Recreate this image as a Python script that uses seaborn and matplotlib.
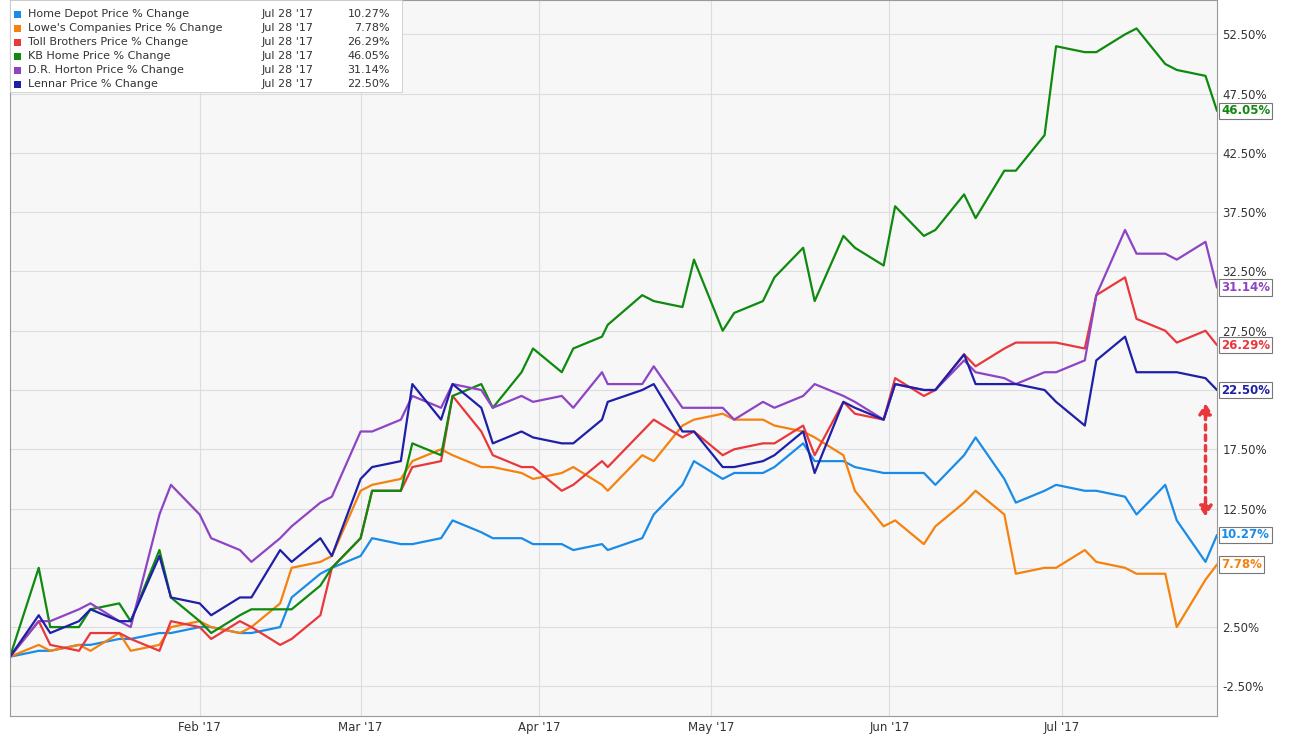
import matplotlib
matplotlib.use("Agg")
import matplotlib.pyplot as plt
import matplotlib.dates as mdates
import seaborn as sns
import pandas as pd
import numpy as np
from matplotlib.patches import Rectangle, FancyArrowPatch

dates = ["2016-12-30","2017-01-04","2017-01-06","2017-01-11","2017-01-13","2017-01-18","2017-01-20","2017-01-25","2017-01-27",
 "2017-02-01","2017-02-03","2017-02-08","2017-02-10","2017-02-15","2017-02-17","2017-02-22","2017-02-24",
 "2017-03-01","2017-03-03","2017-03-08","2017-03-10","2017-03-15","2017-03-17","2017-03-22","2017-03-24","2017-03-29","2017-03-31",
 "2017-04-05","2017-04-07","2017-04-12","2017-04-13","2017-04-19","2017-04-21","2017-04-26","2017-04-28",
 "2017-05-03","2017-05-05","2017-05-10","2017-05-12","2017-05-17","2017-05-19","2017-05-24","2017-05-26","2017-05-31",
 "2017-06-02","2017-06-07","2017-06-09","2017-06-14","2017-06-16","2017-06-21","2017-06-23","2017-06-28","2017-06-30",
 "2017-07-05","2017-07-07","2017-07-12","2017-07-14","2017-07-19","2017-07-21","2017-07-26","2017-07-28"]

home_depot = [0,0.5,0.5,1,1,1.5,1.5,2,2, 2.5,2.5,2,2,2.5,5,7,7.5, 8.5,10,9.5,9.5,10,11.5,10.5,10,10,9.5,
 9.5,9,9.5,9,10,12,14.5,16.5, 15,15.5,15.5,16,18,16.5,16.5,16,15.5, 15.5,15.5,14.5,17,18.5,15,13,14,14.5,
 14,14,13.5,12,14.5,11.5,8,10.27]
lowes = [0,1,0.5,1,0.5,2,0.5,1,2.5, 3,2.5,2,2.5,4.5,7.5,8,8.5, 14,14.5,15,16.5,17.5,17,16,16,15.5,15,
 15.5,16,14.5,14,17,16.5,19.5,20, 20.5,20,20,19.5,19,18.5,17,14,11, 11.5,9.5,11,13,14,12,7,7.5,7.5,
 9,8,7.5,7,7,2.5,6.5,7.78]
toll = [0,3,1,0.5,2,2,1.5,0.5,3, 2.5,1.5,3,2.5,1,1.5,3.5,7.5, 10,14,14,16,16.5,22,19,17,16,16,
 14,14.5,16.5,16,19,20,18.5,19, 17,17.5,18,18,19.5,17,21.5,20.5,20, 23.5,22,22.5,25.5,24.5,26,26.5,26.5,26.5,
 26,30.5,32,28.5,27.5,26.5,27.5,26.29]
kb_home = [0,7.5,2.5,2.5,4,4.5,3,9,5, 3,2,3.5,4,4,4,6,7.5, 10,14,14,18,17,22,23,21,24,26,
 24,26,27,28,30.5,30,29.5,33.5, 27.5,29,30,32,34.5,30,35.5,34.5,33, 38,35.5,36,39,37,41,41,44,51.5,
 51,51,52.5,53,50,49.5,49,46.05]
horton = [0,3,3,4,4.5,3,2.5,12,14.5, 12,10,9,8,10,11,13,13.5, 19,19,20,22,21,23,22.5,21,22,21.5,
 22,21,24,23,23,24.5,21,21, 21,20,21.5,21,22,23,22,21.5,20, 23,22.5,22.5,25,24,23.5,23,24,24,
 25,30.5,36,34,34,33.5,35,31.14]
lennar = [0,3.5,2,3,4,3,3,8.5,5, 4.5,3.5,5,5,9,8,10,8.5, 15,16,16.5,23,20,23,21,18,19,18.5,
 18,18,20,21.5,22.5,23,19,19, 16,16,16.5,17,19,15.5,21.5,21,20, 23,22.5,22.5,25.5,23,23,23,22.5,21.5,
 19.5,25,27,24,24,24,23.5,22.5]

names = ["Home Depot","Lowe's Companies","Toll Brothers","KB Home","D.R. Horton","Lennar"]
series = [home_depot, lowes, toll, kb_home, horton, lennar]
colors = ["#1a8ce8","#f5820f","#e8383b","#0e8a0e","#8e44c4","#1f1fa8"]
end_vals = ["10.27%","7.78%","26.29%","46.05%","31.14%","22.50%"]

frames = []
for n, s in zip(names, series):
    frames.append(pd.DataFrame({"date": pd.to_datetime(dates), "value": s, "name": n}))
df = pd.concat(frames)

sns.set_theme(style="whitegrid")
fig = plt.figure(figsize=(13.15, 7.42), dpi=100)
ax = fig.add_axes([10/1315, 1-716/742, 1207/1315, 716/742])
ax.set_facecolor("#f7f7f7")
sns.lineplot(data=df, x="date", y="value", hue="name", palette=dict(zip(names, colors)),
             linewidth=1.6, legend=False, ax=ax)
ax.set_xlim(pd.Timestamp("2016-12-30"), pd.Timestamp("2017-07-28"))
ax.set_ylim(-5.0, 55.4)
ticks = np.arange(-2.5, 55, 5)
ax.set_yticks(ticks)
ax.yaxis.tick_right()
# labels hidden where the end-value boxes sit (as in the reference)
ax.set_yticklabels(["" if t in (7.5, 22.5) else f"{t:.2f}%" for t in ticks], fontsize=8.5, color="#333")
ax.xaxis.set_major_locator(mdates.MonthLocator(bymonth=range(2, 8)))
ax.xaxis.set_major_formatter(mdates.DateFormatter("%b '%y"))
ax.tick_params(axis="x", labelsize=8.5, colors="#333", length=0)
ax.tick_params(axis="y", length=0, pad=4)
ax.set_xlabel(""); ax.set_ylabel("")
ax.grid(color="#dddddd", linewidth=0.8)
for sp in ax.spines.values():
    sp.set_color("#999"); sp.set_linewidth(0.8)

for s, c, v in zip(series, colors, end_vals):
    ax.annotate(v, xy=(1.0, s[-1]), xycoords=("axes fraction", "data"), xytext=(3, 0),
                textcoords="offset points", va="center", ha="left", fontsize=8.5, color=c,
                fontweight="bold", annotation_clip=False,
                bbox=dict(boxstyle="square,pad=0.15", fc="white", ec="#777", lw=0.8))

ax.add_patch(Rectangle((0, 1 - 92/716), 392/1207, 92/716, transform=ax.transAxes,
                       facecolor="white", edgecolor="#ccc", lw=0.6, zorder=5))
for i, (n, c, v) in enumerate(zip(names, colors, end_vals)):
    yy = 1 - (14 + 14*i)/716
    ax.add_patch(Rectangle((4/1207, yy - 3.5/716), 7/1207, 7/716, transform=ax.transAxes,
                           facecolor=c, edgecolor="none", zorder=6))
    ax.text(18/1207, yy, f"{n} Price % Change", transform=ax.transAxes, fontsize=8, va="center", color="#333", zorder=6)
    ax.text(252/1207, yy, "Jul 28 '17", transform=ax.transAxes, fontsize=8, va="center", color="#333", zorder=6)
    ax.text(380/1207, yy, v, transform=ax.transAxes, fontsize=8, va="center", ha="right", color="#333", zorder=6)

xa = mdates.date2num(pd.Timestamp("2017-07-26"))
arr = FancyArrowPatch((xa, 11.6), (xa, 21.6),
                      arrowstyle="<|-|>,head_length=6,head_width=4", color="#e8383b",
                      linestyle=(0, (1.5, 1.5)), lw=2.5, zorder=7)
ax.add_patch(arr)

fig.savefig("out.png", dpi=100)
